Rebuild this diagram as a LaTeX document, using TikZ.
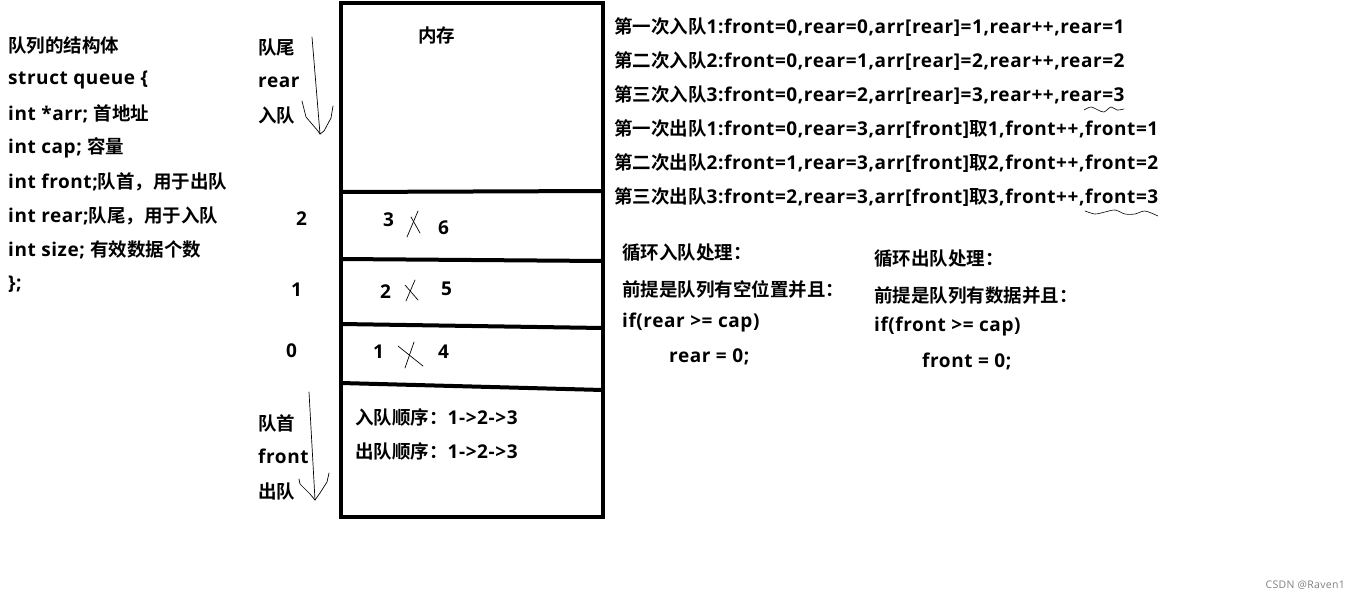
\documentclass[tikz,border=0pt]{standalone}
\usepackage{fontspec}
\setmainfont{Open Sans}[LetterSpace=3]
\newfontfamily\cjkfont{Noto Sans CJK SC}[BoldFont={Noto Sans CJK SC Bold}]
\newcommand{\cn}[1]{{\fontsize{18.5}{21}\cjkfont\bfseries #1}}
\usetikzlibrary{positioning}

\begin{document}
\begin{tikzpicture}[x=1pt,y=-1pt,
		txt/.style={anchor=west,inner sep=0pt,font=\fontsize{19}{21}\selectfont\bfseries},
		wall/.style={line width=4pt},
		hand/.style={line width=0.7pt,line cap=round,line join=round}]
			\pgfmathsetmacro{\BoxLeft}{341}
			\pgfmathsetmacro{\BoxRight}{603}
			\pgfmathsetmacro{\BoxTop}{3}
			\pgfmathsetmacro{\BoxBottom}{517}
			\pgfmathsetmacro{\LineGap}{34}
			\useasboundingbox (0,0) rectangle (1360,600);
			
			% memory block
			\draw[wall] (\BoxLeft,\BoxTop) rectangle (\BoxRight,\BoxBottom);
			\draw[wall] (\BoxLeft,192) -- (\BoxRight,191);
			\draw[wall] (\BoxLeft,259) -- (\BoxRight,261);
			\draw[wall] (\BoxLeft,324) -- (\BoxRight,328);
			\draw[wall] (\BoxLeft,383) -- (\BoxRight,390);
			\node[txt] (Memory) at (418,35) {\cn{内存}};
			
			% struct on the left
			\node[txt] (StructTitle) at (8,46) {\cn{队列的结构体}};
			\node[txt] (StructHead) at (8,46+\LineGap) {struct queue \{};
			\node[txt] (FieldArr) at (8,46+2*\LineGap) {int *arr; \cn{首地址}};
			\node[txt] (FieldCap) at (8,46+3*\LineGap) {int cap; \cn{容量}};
			\node[txt] (FieldFront) at (8,46+4*\LineGap) {int front;\cn{队首，用于出队}};
			\node[txt] (FieldRear) at (8,46+5*\LineGap) {int rear;\cn{队尾，用于入队}};
			\node[txt] (FieldSize) at (8,46+6*\LineGap) {int size; \cn{有效数据个数}};
			\node[txt] (StructEnd) at (8,46+7*\LineGap) {\};};
			
			% rear side
			\node[txt] (RearCn) at (258,48) {\cn{队尾}};
			\node[txt] (RearEn) at (258,82) {rear};
			\node[txt] (RearIn) at (258,116) {\cn{入队}};
			\coordinate (RearTail) at (312,37);
			\coordinate (RearTip) at (320,134);
			\draw[hand] (RearTail) -- (RearTip);
			\draw[hand] (RearTip) -- (318,131) -- (306,117) -- (302,101);
			\draw[hand] (RearTip) -- (324,131) -- (331,118) -- (333,106);
			
			% indices
			\node[txt] (IdxTwo) at (296,219) {2};
			\node[txt] (IdxOne) at (291,290) {1};
			\node[txt] (IdxZero) at (286,351) {0};
			
			% cells
			\node[txt] (OldThree) at (383,220) {3};
			\node[txt] (NewSix) at (438,228) {6};
			\draw[hand] (418,211) -- (407,237);
			\draw[hand] (411,217) -- (420,233);
			\node[txt] (OldTwo) at (380,292) {2};
			\node[txt] (NewFive) at (441,289) {5};
			\draw[hand] (415,280) -- (406,301);
			\draw[hand] (405,285) -- (418,300);
			\node[txt] (OldOne) at (373,352) {1};
			\node[txt] (NewFour) at (438,352) {4};
			\draw[hand] (414,342) -- (405,368);
			\draw[hand] (398,346) -- (423,366);
			
			% order
			\node[txt] (InOrder) at (355,417) {\cn{入队顺序：}1->2->3};
			\node[txt] (OutOrder) at (355,451) {\cn{出队顺序：}1->2->3};
			
			% front side
			\node[txt] (FrontCn) at (258,423) {\cn{队首}};
			\node[txt] (FrontEn) at (258,456) {front};
			\node[txt] (FrontOut) at (258,491) {\cn{出队}};
			\coordinate (FrontTail) at (309,392);
			\coordinate (FrontTip) at (315,500);
			\draw[hand] (FrontTail) -- (FrontTip);
			\draw[hand] (FrontTip) -- (310,494) -- (300,484) -- (299,479);
			\draw[hand] (FrontTip) -- (320,493) -- (327,482) -- (329,473);
			
			% steps
			\node[txt] (StepA) at (614,27) {\cn{第一次入队}1:front=0,rear=0,arr[rear]=1,rear++,rear=1};
			\node[txt] (StepB) at (614,27+\LineGap) {\cn{第二次入队}2:front=0,rear=1,arr[rear]=2,rear++,rear=2};
			\node[txt] (StepC) at (614,27+2*\LineGap) {\cn{第三次入队}3:front=0,rear=2,arr[rear]=3,rear++,rear=3};
			\node[txt] (StepD) at (614,27+3*\LineGap) {\cn{第一次出队}1:front=0,rear=3,arr[front]\cn{取}1,front++,front=1};
			\node[txt] (StepE) at (614,27+4*\LineGap) {\cn{第二次出队}2:front=1,rear=3,arr[front]\cn{取}2,front++,front=2};
			\node[txt] (StepF) at (614,27+5*\LineGap) {\cn{第三次出队}3:front=2,rear=3,arr[front]\cn{取}3,front++,front=3};
			\draw[hand,line width=0.6pt] plot[smooth] coordinates {(1084,110) (1091,107) (1098,110) (1104,112) (1111,107) (1117,110) (1124,109)};
			\draw[hand,line width=0.6pt] plot[smooth] coordinates {(1085,211) (1095,214) (1105,212) (1115,210) (1125,214) (1135,214) (1145,211) (1158,216)};
			
			% wrap around
			\node[txt] (LoopIn) at (622,253) {\cn{循环入队处理：}};
			\node[txt] (LoopInCond) at (622,289) {\cn{前提是队列有空位置并且：}};
			\node[txt] (LoopInIf) at (622,323) {if(rear >= cap)};
			\node[txt] (LoopInSet) at (669,357) {rear = 0;};
			\node[txt] (LoopOut) at (874,259) {\cn{循环出队处理：}};
			\node[txt] (LoopOutCond) at (874,295) {\cn{前提是队列有数据并且：}};
			\node[txt] (LoopOutIf) at (874,327) {if(front >= cap)};
			\node[txt] (LoopOutSet) at (922,361) {front = 0;};
			
			\node[anchor=east,inner sep=0pt,text=gray,font=\fontsize{10.5}{12}\selectfont] (Mark) at (1345,585) {CSDN @Raven1};
		\end{tikzpicture}
\end{document}
